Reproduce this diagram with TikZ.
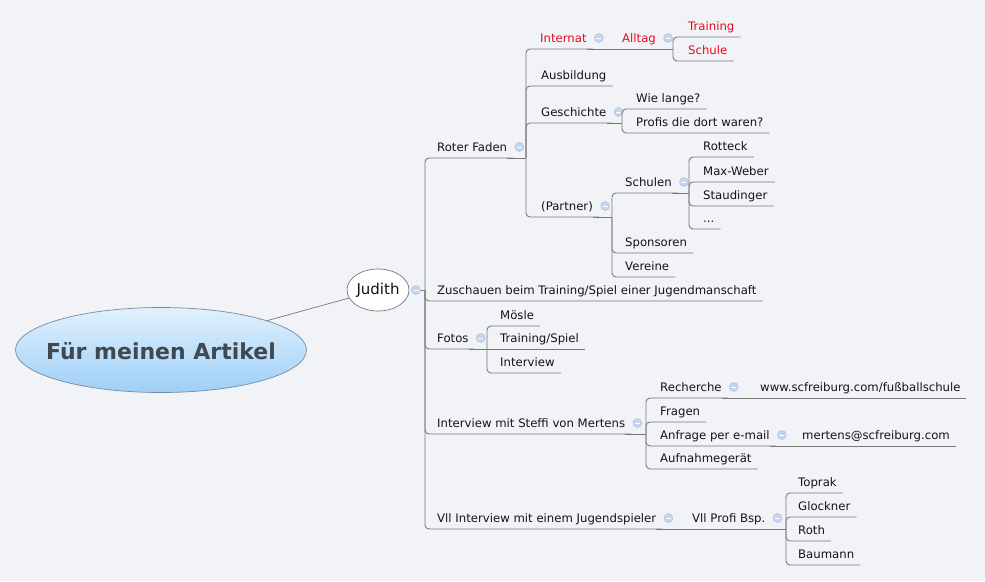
\documentclass[tikz,border=0pt]{standalone}
\usepackage{fontspec}
\setmainfont{DejaVu Sans}
\usetikzlibrary{calc,shapes.geometric}
\definecolor{bg}{RGB}{241,243,246}
\definecolor{linec}{RGB}{120,120,120}
\definecolor{txt}{RGB}{20,20,20}
\definecolor{redc}{RGB}{230,10,30}
\definecolor{rootTop}{RGB}{224,241,253}
\definecolor{rootBot}{RGB}{158,207,248}
\definecolor{rootLine}{RGB}{120,138,158}
\definecolor{titlec}{RGB}{64,72,80}
\definecolor{mkfill}{RGB}{196,214,238}
\definecolor{mkdraw}{RGB}{172,196,228}
\tikzset{
  topic/.style={anchor=south west, inner xsep=0pt, inner ysep=0pt, text height=9pt, text depth=6.5pt, font=\fontsize{11.7}{14}\selectfont, text=txt},
  redtopic/.style={topic, text=redc},
  conn/.style={draw=linec, line width=0.9pt},
  branch/.style={conn, rounded corners=4pt},
  mk/.style={circle, minimum size=9pt, inner sep=0pt, fill=mkfill, draw=mkdraw, line width=0.5pt,
    path picture={\draw[white, line width=1pt] ([xshift=-2.5pt]path picture bounding box.center) -- ([xshift=2.5pt]path picture bounding box.center);}},
}
\begin{document}
\begin{tikzpicture}[x=1pt,y=-1pt]
\fill[bg] (0,0) rectangle (985,581);
\useasboundingbox (0,0) rectangle (985,581);

% central topic and Judith
\node[ellipse, minimum width=291pt, minimum height=85pt, inner sep=0pt, top color=rootTop, bottom color=rootBot, draw=rootLine, line width=0.7pt] (root) at (161,350) {};
\node[font=\bfseries\fontsize{22}{26}\selectfont, text=titlec] (title) at (161,351) {Für meinen Artikel};
\node[ellipse, minimum width=62pt, minimum height=42pt, inner sep=0pt, fill=white, draw=linec, line width=0.7pt, font=\fontsize{15}{18}\selectfont, text=txt] (judith) at (378,290) {Judith};
\draw[conn, line width=0.7pt] (root) -- (judith);
\node[mk] (mj) at (416,290) {};

% branch points
\coordinate (bj) at (425,290);
\coordinate (brf) at (526,158);
\coordinate (ball) at (673,49);
\coordinate (bges) at (622,123);
\coordinate (bpar) at (612,217);
\coordinate (bsul) at (689,193);
\coordinate (bfot) at (487,349);
\coordinate (bstf) at (646,434);
\coordinate (bvpb) at (786,529);

% topics
\node[topic] (rf) at (437,158) {Roter Faden};
\node[topic] (zus) at (437,301) {Zuschauen beim Training/Spiel einer Jugendmanschaft};
\node[topic] (fot) at (437,349) {Fotos};
\node[topic] (stf) at (437,434) {Interview mit Steffi von Mertens};
\node[topic] (vll) at (437,529) {Vll Interview mit einem Jugendspieler};

\node[redtopic] (int) at (540,49) {Internat};
\node[redtopic] (all) at (622,49) {Alltag};
\node[redtopic] (trn) at (688,37) {Training};
\node[redtopic] (sch) at (688,61) {Schule};
\node[topic] (aus) at (541,86) {Ausbildung};
\node[topic] (ges) at (541,123) {Geschichte};
\node[topic] (wie) at (636,109) {Wie lange?};
\node[topic] (pro) at (636,133) {Profis die dort waren?};
\node[topic] (par) at (541,217) {(Partner)};
\node[topic] (sul) at (625,193) {Schulen};
\node[topic] (rot) at (703,157) {Rotteck};
\node[topic] (max) at (703,182) {Max-Weber};
\node[topic] (sta) at (703,206) {Staudinger};
\node[topic] (dots) at (703,229) {...};
\node[topic] (spo) at (625,253) {Sponsoren};
\node[topic] (ver) at (625,277) {Vereine};

\node[topic] (moe) at (500,326) {Mösle};
\node[topic] (tsp) at (500,349) {Training/Spiel};
\node[topic] (itv) at (500,373) {Interview};

\node[topic] (rec) at (660,398) {Recherche};
\node[topic] (www) at (760,398) {www.scfreiburg.com/fußballschule};
\node[topic] (fra) at (660,422) {Fragen};
\node[topic] (anf) at (660,446) {Anfrage per e-mail};
\node[topic] (mer) at (802,446) {mertens@scfreiburg.com};
\node[topic] (auf) at (660,469) {Aufnahmegerät};

\node[topic] (vpb) at (692,529) {Vll Profi Bsp.};
\node[topic] (top) at (798,493) {Toprak};
\node[topic] (glo) at (798,517) {Glockner};
\node[topic] (rth) at (798,541) {Roth};
\node[topic] (bau) at (798,565) {Baumann};

% collapse markers
\foreach \p in {rf,fot,stf,vll,int,all,ges,par,sul,rec,anf,vpb}
  \node[mk] (mk\p) at ($(\p.south east)+(12,-11)$) {};

% connectors: Judith
\draw[conn] (mj) -- (bj);
\foreach \c in {rf,zus,fot,stf,vll}
  \draw[branch] (bj) |- ($(\c.south east)+(6,0)$);

% Roter Faden
\draw[conn] (rf.south east) -- (brf);
\foreach \c in {int,aus,ges,par}
  \draw[branch] (brf) |- ($(\c.south east)+(6,0)$);
\draw[conn] (int.south east) -- (ball);
\foreach \c in {trn,sch}
  \draw[branch] (ball) |- ($(\c.south east)+(6,0)$);
\draw[conn] (ges.south east) -- (bges);
\foreach \c in {wie,pro}
  \draw[branch] (bges) |- ($(\c.south east)+(6,0)$);
\draw[conn] (par.south east) -- (bpar);
\foreach \c in {sul,spo,ver}
  \draw[branch] (bpar) |- ($(\c.south east)+(6,0)$);
\draw[conn] (sul.south east) -- (bsul);
\foreach \c in {rot,max,sta,dots}
  \draw[branch] (bsul) |- ($(\c.south east)+(6,0)$);

% Fotos
\draw[conn] (fot.south east) -- (bfot);
\foreach \c in {moe,itv}
  \draw[branch] (bfot) |- ($(\c.south east)+(6,0)$);
\draw[conn] (bfot) -- ($(tsp.south east)+(6,0)$);

% Interview mit Steffi von Mertens
\draw[conn] (stf.south east) -- (bstf);
\foreach \c in {rec,fra,anf,auf}
  \draw[branch] (bstf) |- ($(\c.south east)+(6,0)$);
\draw[conn] (rec.south east) -- ($(www.south east)+(5,0)$);
\draw[conn] (anf.south east) -- ($(mer.south east)+(6,0)$);

% Vll Interview
\draw[conn] (vll.south east) -- (bvpb);
\foreach \c in {top,glo,rth,bau}
  \draw[branch] (bvpb) |- ($(\c.south east)+(6,0)$);
\end{tikzpicture}
\end{document}
